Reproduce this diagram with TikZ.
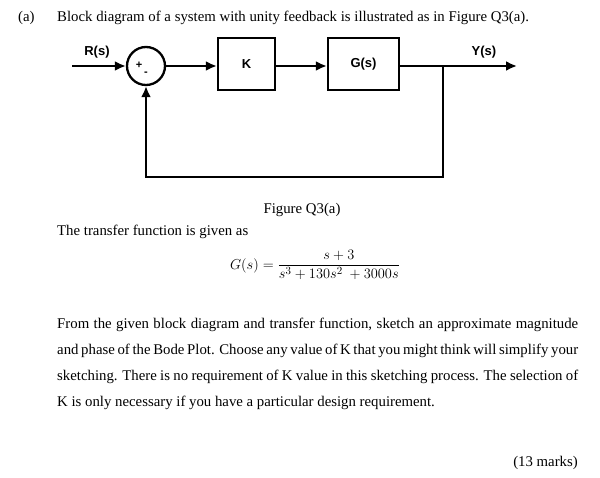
\documentclass[tikz,border=0pt]{standalone}
\usepackage{fontspec}
\setmainfont{Liberation Serif}
\newfontfamily\blk{Liberation Sans}
\usetikzlibrary{arrows.meta}
\begin{document}
\begin{tikzpicture}[x=1pt,y=-1pt,
  line/.style={line width=2.3pt},
  arr/.style={line, -{Latex[length=11pt,width=10pt]}},
  blk/.style={draw,line width=2.3pt,minimum width=57pt,minimum height=52pt,font=\blk\bfseries\fontsize{13}{14}\selectfont},
  txt/.style={font=\fontsize{14.8}{18}\selectfont,inner sep=0pt}]
\useasboundingbox (0,0) rectangle (600,478);
\node[txt,anchor=west] (a) at (18,18) {(a)};
\node[txt,anchor=west] (t1) at (57,18) {Block diagram of a system with unity feedback is illustrated as in Figure Q3(a).};
\coordinate (in) at (72,66);
\node[draw,circle,line width=2.3pt,minimum size=38pt,inner sep=0pt] (sum) at (146,66) {};
\node[font=\blk\bfseries\fontsize{11}{11}\selectfont] (plus) at (139,65) {+};
\node[font=\blk\bfseries\fontsize{11}{11}\selectfont] (minus) at (146,74) {-};
\node[blk] (K) at (246.5,64) {K};
\node[blk,minimum width=71pt] (G) at (363.5,64) {G(s)};
\coordinate (br) at (443,66);
\coordinate (out) at (517,66);
\coordinate (fb) at (443,177);
\coordinate (fb2) at (146,177);
\node[font=\blk\bfseries\fontsize{13}{14}\selectfont] (R) at (97,52) {R(s)};
\node[font=\blk\bfseries\fontsize{13}{14}\selectfont] (Y) at (484,52) {Y(s)};
\draw[arr] (in) -- (sum);
\draw[arr] (sum) -- (K.west |- sum);
\draw[arr] (K.east |- sum) -- (G.west |- sum);
\draw[arr] (G.east |- sum) -- (out);
\draw[arr] (br) -- (fb) -- (fb2) -- (sum.south);
\node[txt] (fig) at (302,210) {Figure Q3(a)};
\node[txt,anchor=west] (tf) at (57,232) {The transfer function is given as};
\node[inner sep=0pt,font=\fontsize{15}{18}\selectfont] (eq) at (315,265) {$\displaystyle G(s) = \frac{s+3}{s^3+130s^2\ +3000s}$};
\node[txt,anchor=north west,text width=521pt,align=justify,font=\fontsize{14.8}{26}\selectfont] (p) at (57,318)
{From the given block diagram and transfer function, sketch an approximate magnitude and phase of the Bode Plot. Choose any value of K that you might think will simplify your sketching. There is no requirement of K value in this sketching process. The selection of K is only necessary if you have a particular design requirement.};
\node[txt,anchor=east] (m) at (578,463) {(13 marks)};
\end{tikzpicture}
\end{document}
